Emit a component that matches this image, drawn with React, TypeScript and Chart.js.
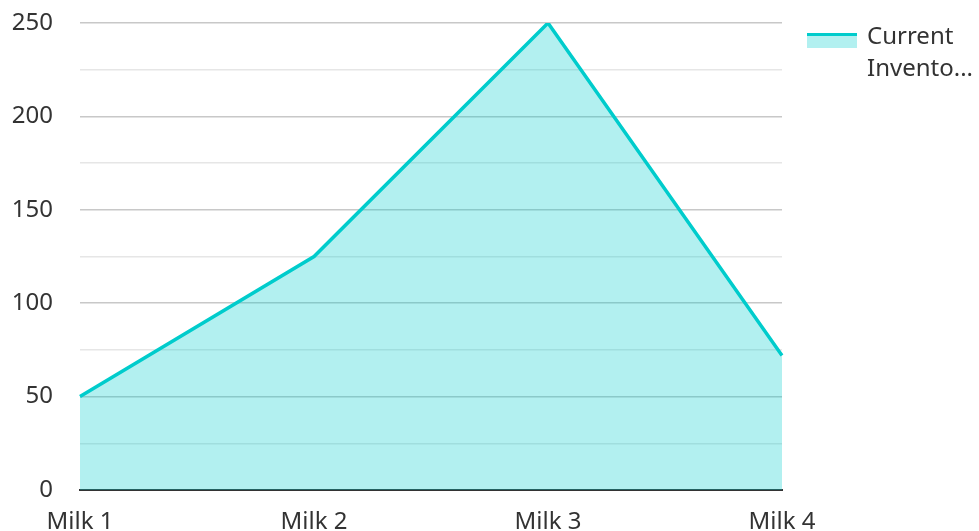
import React, { useEffect, useRef } from 'react';
import { Chart, registerables } from 'chart.js';

Chart.register(...registerables);

const categories = ['Milk 1', 'Milk 2', 'Milk 3', 'Milk 4'];
const inventory = [50, 125, 250, 72];
const seriesLabel = 'Current Inventory';
const legendLines = ['Current', 'Invento...'];
const yTicks = { min: 0, max: 250, step: 25, labelEvery: 50 };

const LINE = '#00cccc';
const FILL = 'rgba(0, 204, 204, 0.3)';
const TEXT = '#333333';
const FONT = '"Noto Sans", "Open Sans", sans-serif';

const sideLegend = {
  id: 'sideLegend',
  afterDraw(chart: any) {
    const ctx = chart.ctx as CanvasRenderingContext2D;
    const x = chart.chartArea.right + 25;
    const y = 33;
    ctx.save();
    ctx.fillStyle = FILL;
    ctx.fillRect(x, y, 50, 15);
    ctx.fillStyle = LINE;
    ctx.fillRect(x, y, 50, 3);
    ctx.fillStyle = TEXT;
    ctx.font = `24px ${FONT}`;
    ctx.textBaseline = 'alphabetic';
    ctx.textAlign = 'left';
    legendLines.forEach((t, i) => ctx.fillText(t, x + 60, 44 + i * 32));
    ctx.restore();
  },
};

export default function App() {
  const ref = useRef<HTMLCanvasElement | null>(null);
  useEffect(() => {
    if (!ref.current) return;
    const chart = new Chart(ref.current, {
      type: 'line',
      data: {
        labels: categories,
        datasets: [
          {
            label: seriesLabel,
            data: inventory,
            borderColor: LINE,
            backgroundColor: FILL,
            borderWidth: 3.5,
            fill: 'origin',
            pointRadius: 0,
            pointHoverRadius: 0,
            tension: 0,
          },
        ],
      },
      options: {
        animation: false,
        responsive: true,
        maintainAspectRatio: false,
        layout: { padding: { top: 0, right: 197, left: 0, bottom: 0 } },
        plugins: { legend: { display: false }, tooltip: { enabled: false } },
        scales: {
          x: {
            offset: false,
            grid: { display: false },
            border: { display: true, color: TEXT, width: 2 },
            ticks: { color: TEXT, font: { family: FONT, size: 24 }, padding: 10, maxRotation: 0 },
            afterFit: (s: any) => {
              s.height = 41;
            },
          },
          y: {
            min: yTicks.min,
            max: yTicks.max,
            border: { display: false },
            grid: {
              color: (c: any) => (c.tick && c.tick.value % yTicks.labelEvery === 0 ? '#c8c8c8' : '#e6e6e6'),
              lineWidth: 1.5,
              drawTicks: false,
            },
            ticks: {
              stepSize: yTicks.step,
              color: TEXT,
              font: { family: FONT, size: 24 },
              padding: 27,
              callback: (v: any) => (Number(v) % yTicks.labelEvery === 0 ? String(v) : ''),
            },
            afterFit: (s: any) => {
              s.width = 80;
              s.paddingTop = 23;
              s.paddingBottom = 0;
            },
          },
        },
      },
      plugins: [sideLegend],
    });
    return () => chart.destroy();
  }, []);
  return (
    <div style={{ position: 'fixed', left: 0, top: 0, width: '100vw', height: '100vh' }}>
      <canvas ref={ref} />
    </div>
  );
}
